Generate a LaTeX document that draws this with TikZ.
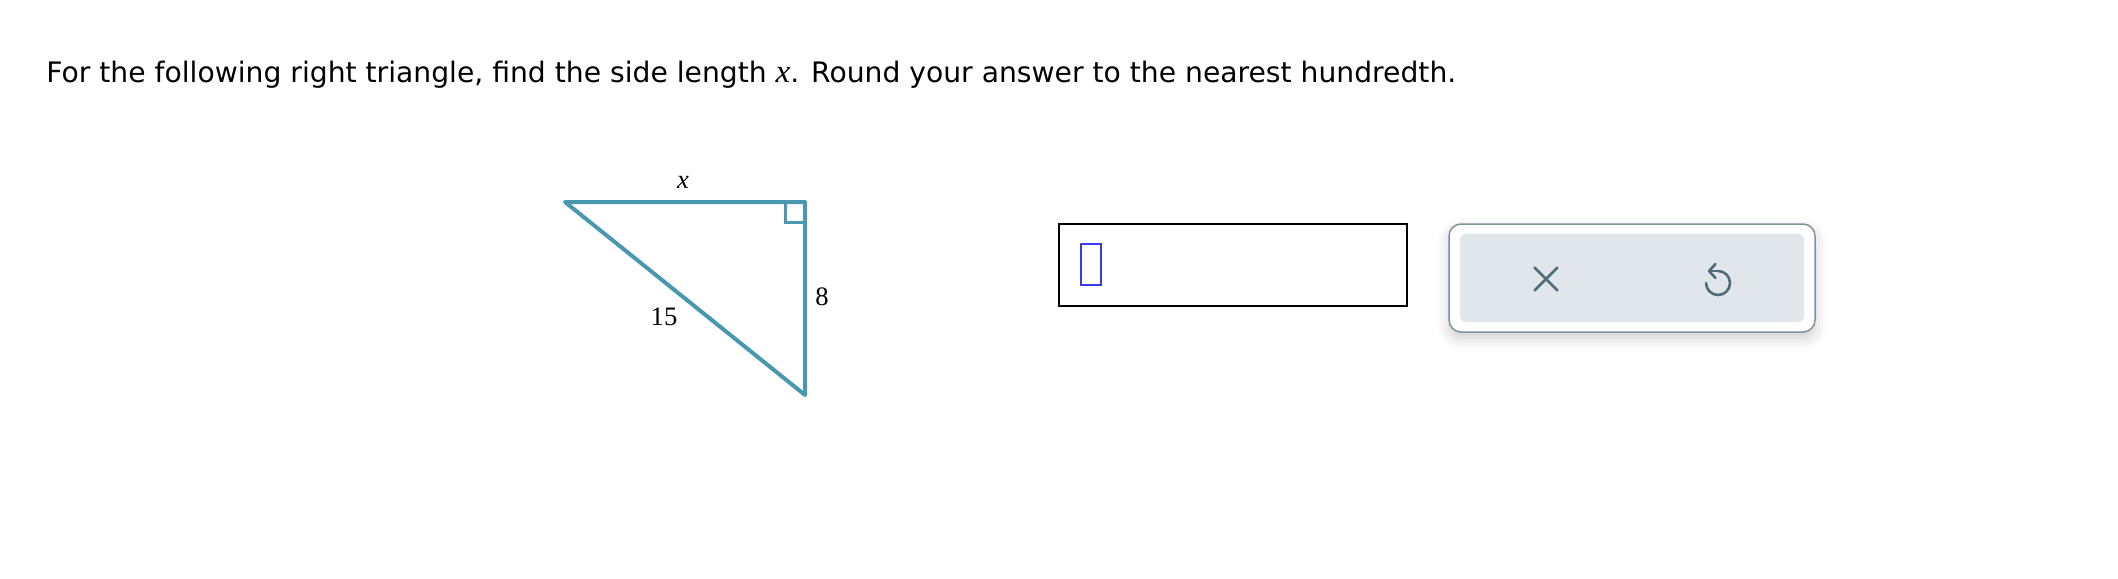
\documentclass[tikz,border=0pt]{standalone}
\usepackage{fontspec}
\setmainfont{DejaVu Sans}
\newfontfamily\labelfont{Liberation Serif}
\usetikzlibrary{shadows.blur}

\definecolor{triline}{RGB}{72,152,176}
\definecolor{cursorblue}{RGB}{58,58,230}
\definecolor{panelborder}{RGB}{128,146,154}
\definecolor{panelfill}{RGB}{224,230,233}
\definecolor{icongray}{RGB}{80,108,120}

\tikzset{
  sidelabel/.style={font=\labelfont\fontsize{13.3}{16}\selectfont, inner sep=0pt, anchor=base},
  triside/.style={triline, line width=2pt, line join=round},
  iconline/.style={icongray, line width=1.3pt, line cap=round, line join=round}
}

\begin{document}
\begin{tikzpicture}[x=0.5pt,y=-0.5pt]
\useasboundingbox (0,0) rectangle (2118,578);

\node[anchor=base west, inner sep=0pt, font=\fontsize{14.1}{16}\selectfont] (question) at (46,82)
  {For the following right triangle, find the side length {\labelfont\itshape\fontsize{16.5}{16}\selectfont x}. Round your answer to the nearest hundredth.};

\coordinate (A) at (565,202);
\coordinate (B) at (805,202);
\coordinate (C) at (805,395);
\draw[triside] (A) -- (B) -- (C) -- cycle;
\draw[triline, line width=1.5pt] (B) ++(-20,0) -- ++(0,20) -- ++(20,0);

\node[sidelabel] (labx) at (683,188) {\itshape x};
\node[sidelabel] (lab8) at (822,305) {8};
\node[sidelabel] (lab15) at (664,325) {15};

\node[draw, line width=1pt, minimum width=174pt, minimum height=41pt, inner sep=0pt] (answer) at (1233,265) {};
\node[draw=cursorblue, line width=0.75pt, minimum width=10pt, minimum height=20.5pt, inner sep=0pt] (cursor) at (1091,264.5) {};

\node[draw=panelborder, fill=white, line width=0.75pt, rounded corners=6pt, minimum width=183pt, minimum height=54pt, inner sep=0pt,
  blur shadow={shadow xshift=0pt, shadow yshift=-3pt, shadow blur radius=6pt, shadow opacity=20}] (panel) at (1632,278) {};
\node[fill=panelfill, rounded corners=3pt, minimum width=172pt, minimum height=44pt, inner sep=0pt] (buttons) at (1632,278) {};

\coordinate (clear) at (1546,279);
\draw[iconline] (clear) ++(-11.5,-11.5) -- ++(23,23);
\draw[iconline] (clear) ++(11.5,-11.5) -- ++(-23,23);

\coordinate (undo) at (1718,283);
\draw[iconline] (1718,271) arc[start angle=-90, end angle=180, radius=12];
\draw[iconline] (1718,271) -- (1709,271);
\draw[iconline] (1715.5,264) -- (1709,271) -- (1715.5,278);
\end{tikzpicture}
\end{document}
